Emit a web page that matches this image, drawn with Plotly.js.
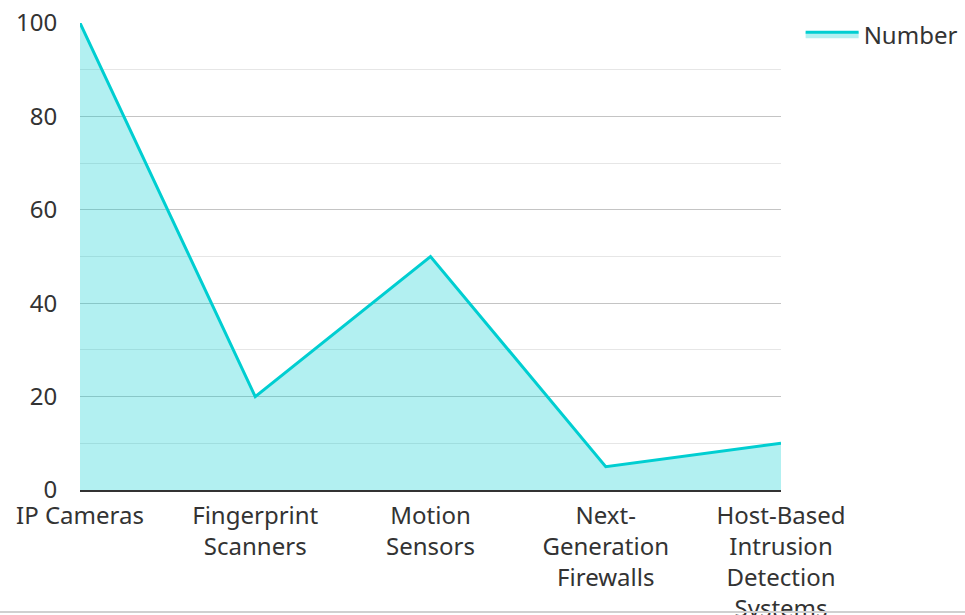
<!DOCTYPE html>
<html><head><meta charset="utf-8">
<script src="https://cdn.plot.ly/plotly-3.0.1.min.js"></script>
<style>html,body{margin:0;padding:0;background:#fff}</style>
</head><body><div id="chart" style="width:965px;height:615px"></div>
<script>
const categories = ["IP Cameras", "Fingerprint<br>Scanners", "Motion<br>Sensors", "Next-<br>Generation<br>Firewalls", "Host-Based<br>Intrusion<br>Detection<br>Systems"];
const values = [100, 20, 50, 5, 10];
const seriesName = "Number";
const yTicks = [0, 20, 40, 60, 80, 100];

const trace = {
  x: categories, y: values, name: seriesName, type: 'scatter', mode: 'lines',
  fill: 'tozeroy', fillcolor: 'rgba(0,206,209,0.3)',
  line: {color: '#00CED1', width: 3}
};
const layout = {
  width: 965, height: 615,
  margin: {l: 80, r: 184, t: 23, b: 125, autoexpand: false},
  font: {family: 'Noto Sans, sans-serif', size: 24, color: '#333'},
  paper_bgcolor: '#fff', plot_bgcolor: '#fff',
  showlegend: true,
  legend: {x: 1.028, y: 1.023, xanchor: 'left', yanchor: 'top', itemwidth: 53,
           font: {size: 24, color: '#333'}},
  xaxis: {range: [0, 4], showgrid: false, showline: true, linecolor: '#333', linewidth: 2,
          ticks: '', ticklabelstandoff: 3, tickfont: {size: 24, color: '#333'}, zeroline: false, automargin: false},
  yaxis: {range: [0, 100], tickvals: yTicks, showgrid: true, gridcolor: '#c4c4c4', gridwidth: 1,
          zeroline: false, showline: false, ticks: 'outside', ticklen: 17, tickcolor: 'rgba(0,0,0,0)',
          tickfont: {size: 24, color: '#333'}, automargin: false,
          minor: {dtick: 10, showgrid: true, gridcolor: '#e6e6e6', gridwidth: 1}},
  shapes: [{type: 'line', xref: 'paper', yref: 'paper', x0: -0.2, x1: 1.3, y0: -0.261, y1: -0.261,
            line: {color: '#d0d0d0', width: 2}}]
};
Plotly.newPlot('chart', [trace], layout, {displayModeBar: false});
</script></body></html>
